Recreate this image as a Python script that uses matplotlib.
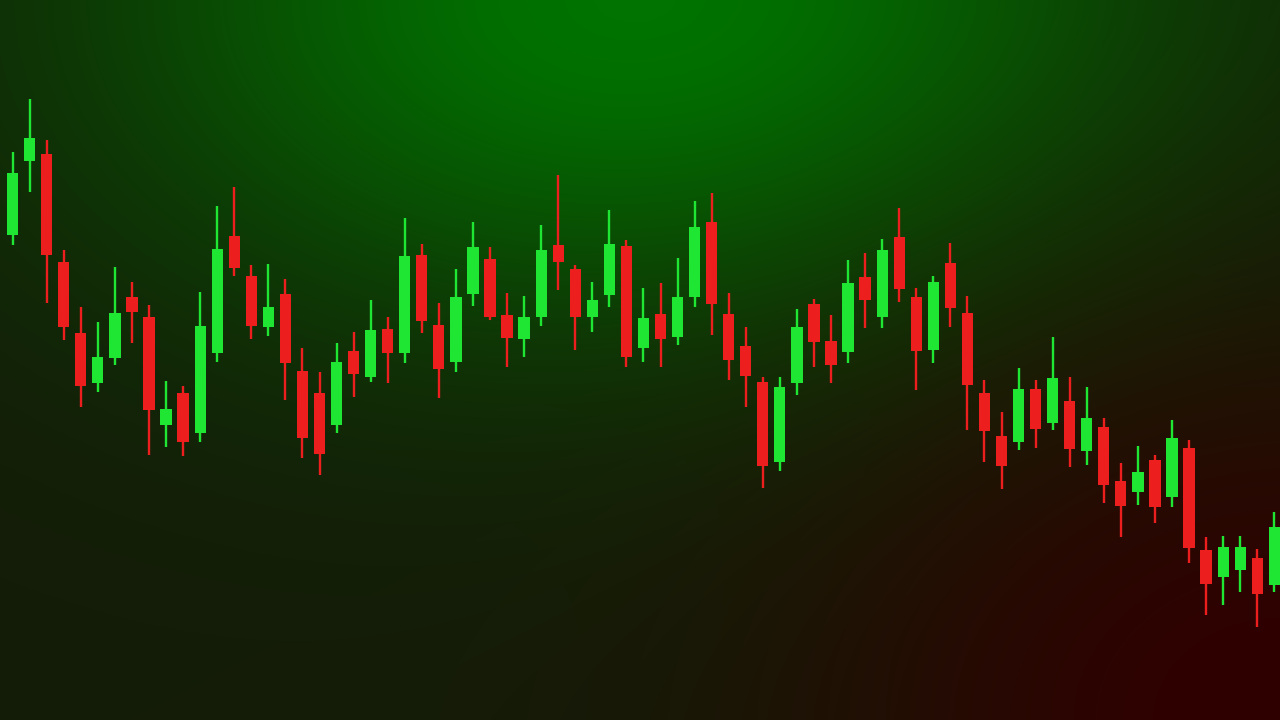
import numpy as np
import matplotlib
matplotlib.use("Agg")
import matplotlib.pyplot as plt

# ---- data (price units) ----
opens = [48.5, 55.9, 56.6, 45.8, 38.7, 33.7, 36.2, 42.3, 40.3, 29.5,
         32.7, 28.7, 36.7, 48.4, 44.4, 39.3, 42.6, 34.9, 32.7, 29.5,
         36.9, 34.3, 39.1, 36.7, 46.5, 39.5, 35.8, 42.6, 46.1, 40.5,
         38.1, 40.3, 47.5, 45.1, 40.3, 42.5, 47.4, 37.2, 40.6, 38.3,
         42.3, 49.8, 40.6, 37.4, 33.8, 25.8, 33.7, 41.6, 37.9, 36.8,
         44.3, 40.3, 48.3, 42.3, 37.0, 45.7, 40.7, 32.7, 28.4, 27.8,
         33.1, 29.7, 31.9, 26.9, 29.3, 23.9, 22.8, 26.0, 22.3, 27.2,
         17.0, 14.3, 15.0, 16.2, 13.5]
closes = [54.7, 58.2, 46.5, 39.3, 33.4, 36.3, 40.7, 40.8, 31.0, 31.1,
          27.8, 39.4, 47.1, 45.2, 39.4, 41.3, 35.7, 28.2, 26.6, 35.8,
          34.6, 39.0, 36.7, 46.4, 39.9, 35.1, 42.3, 47.3, 40.3, 38.2,
          40.3, 47.0, 45.8, 40.3, 42.0, 47.6, 36.3, 40.2, 38.1, 42.3,
          49.3, 41.6, 36.0, 34.4, 25.4, 33.3, 39.3, 37.8, 35.5, 43.7,
          42.0, 47.0, 43.1, 36.9, 43.8, 41.2, 33.5, 28.9, 25.4, 33.1,
          29.1, 34.2, 27.1, 30.2, 23.5, 21.4, 24.8, 21.3, 28.2, 17.2,
          13.6, 17.3, 17.3, 12.6, 19.3]
highs = [56.8, 62.1, 58.0, 47.0, 41.3, 39.8, 45.3, 43.8, 41.5, 33.9,
         33.4, 42.8, 51.4, 53.3, 45.5, 45.6, 44.1, 37.2, 34.8, 37.7,
         38.8, 42.0, 40.3, 50.2, 47.6, 41.7, 45.1, 49.8, 47.3, 42.7,
         42.4, 49.5, 54.5, 45.5, 43.8, 51.0, 48.0, 43.2, 43.7, 46.2,
         51.9, 52.7, 42.7, 39.3, 34.3, 34.3, 41.1, 42.1, 40.5, 46.0,
         46.7, 48.1, 51.2, 43.2, 44.4, 47.7, 42.4, 34.0, 30.8, 35.2,
         34.0, 38.3, 34.3, 33.3, 30.2, 25.7, 27.4, 26.5, 30.0, 28.0,
         18.3, 18.4, 18.4, 17.1, 20.8]
lows = [47.5, 52.8, 41.7, 38.0, 31.3, 32.8, 35.5, 37.7, 26.5, 27.3,
        26.4, 27.8, 35.8, 44.4, 38.1, 38.4, 32.0, 26.2, 24.5, 28.7,
        32.3, 33.8, 33.7, 35.7, 38.7, 32.2, 34.8, 41.4, 40.0, 35.3,
        36.3, 39.4, 43.0, 37.0, 38.8, 41.3, 35.3, 35.8, 35.3, 37.5,
        41.3, 38.5, 34.0, 31.3, 23.2, 24.9, 32.5, 35.3, 33.7, 35.7,
        39.2, 39.2, 41.8, 33.0, 35.7, 39.3, 29.0, 25.8, 23.1, 27.0,
        27.2, 29.0, 25.3, 25.5, 21.7, 18.3, 21.5, 19.7, 21.3, 15.7,
        10.5, 11.5, 12.8, 9.3, 12.8]

UP_COLOR = "#1ee632"
DOWN_COLOR = "#ec1e1e"

n = len(opens)
x = np.arange(n)
o = np.array(opens); c = np.array(closes)
h = np.array(highs); l = np.array(lows)
up = c >= o
colors = np.where(up, UP_COLOR, DOWN_COLOR)

fig = plt.figure(figsize=(12.8, 7.2), dpi=100)
ax = fig.add_axes([0, 0, 1, 1])
step_px = 17.05
x0 = -12.6 / step_px
x1 = x0 + 1280 / step_px
y0, y1 = 0, 72
ax.set_xlim(x0, x1)
ax.set_ylim(y0, y1)
ax.axis("off")

# ---- gradient background ----
W, H = 1280, 720
px, py = np.meshgrid(np.arange(W) + 0.5, np.arange(H) + 0.5)
base = np.array([20, 28, 8], float)
green = np.array([0, 116, 0], float)
red = np.array([48, 0, 0], float)
g = np.exp(-((px - 640) / 540) ** 2 - (py / 330) ** 2)
r = np.exp(-((px - 1280) / 470) ** 2 - ((py - 720) / 380) ** 2)
img = base[None, None, :] * np.ones((H, W, 1))
img = img * (1 - g[..., None]) + green * g[..., None]
img = img * (1 - r[..., None]) + red * r[..., None]
ax.imshow(img.astype(np.uint8), extent=[x0, x1, y0, y1], aspect="auto",
          zorder=0, interpolation="bilinear")

# ---- candles ----
ax.vlines(x, l, h, colors=colors, linewidth=1.7, zorder=2)
ax.bar(x, np.abs(c - o), bottom=np.minimum(o, c), width=0.66,
       color=colors, edgecolor="none", zorder=3)

fig.savefig("out.png", dpi=100)
